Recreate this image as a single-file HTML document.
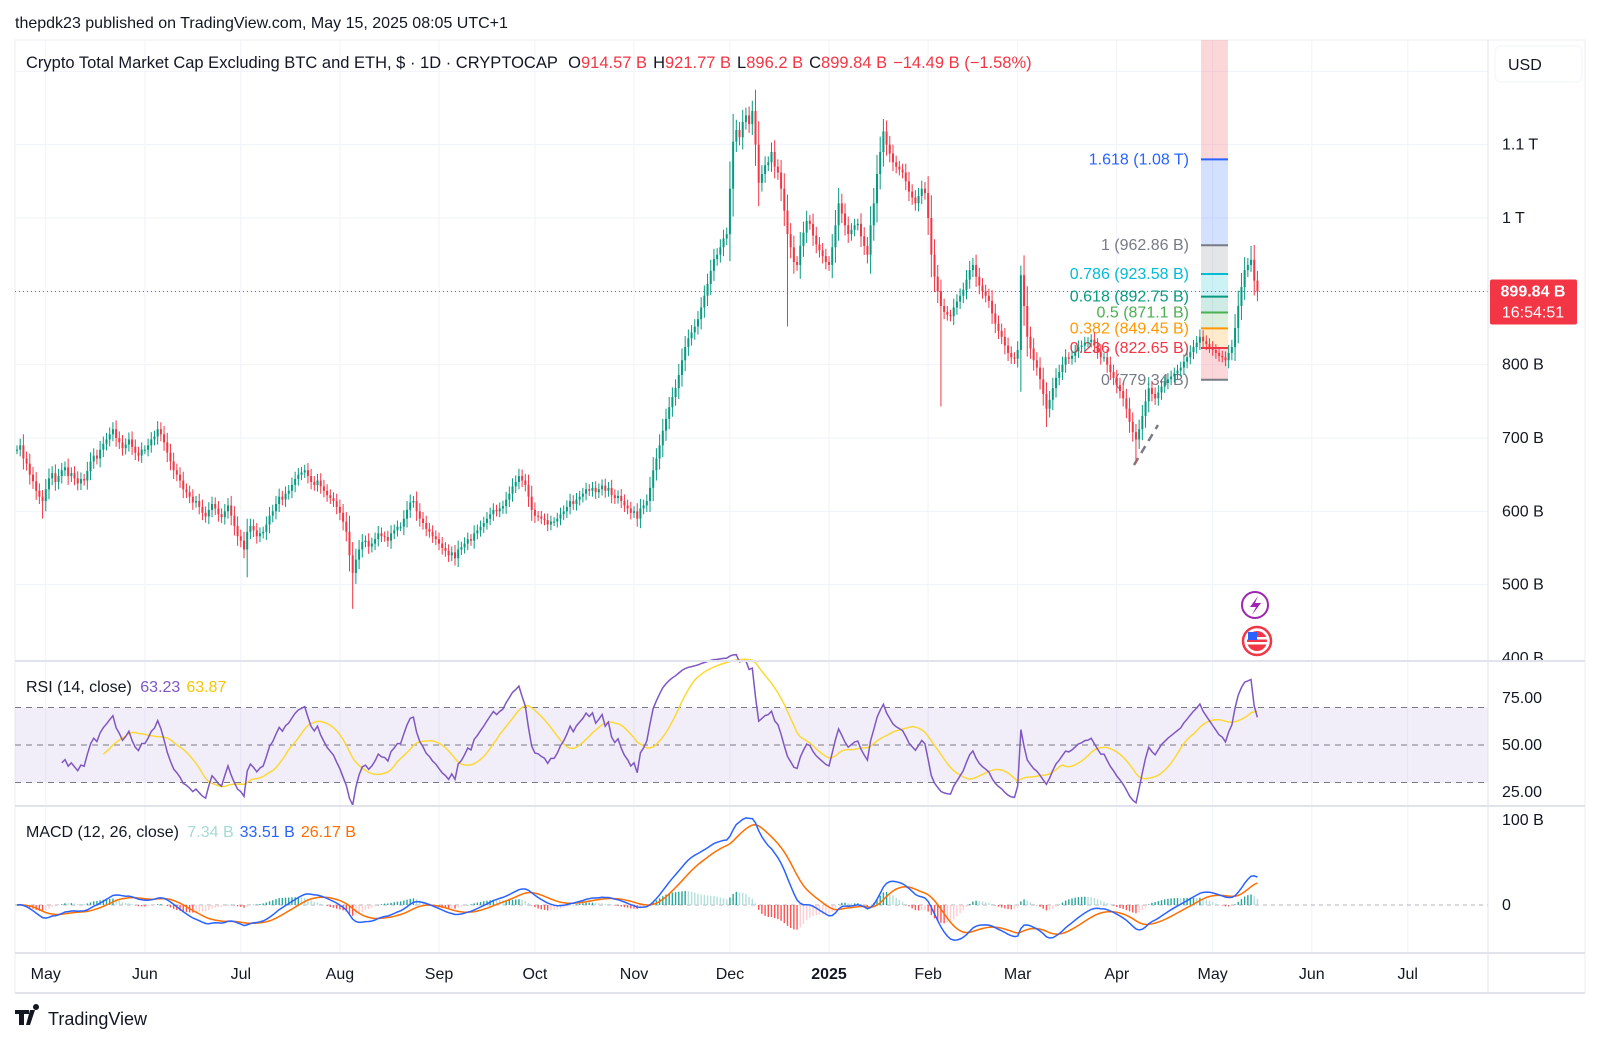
<!DOCTYPE html>
<html><head><meta charset="utf-8">
<style>
html,body{margin:0;padding:0;background:#fff;width:1600px;height:1045px;overflow:hidden;font-family:"Liberation Sans",sans-serif;}
svg{position:absolute;left:0;top:0}
text{font-family:"Liberation Sans",sans-serif}
</style></head>
<body>
<svg id="c" width="1600" height="1045" viewBox="0 0 1600 1045">
  <text x="15" y="28" font-size="16" fill="#131722">thepdk23 published on TradingView.com, May 15, 2025 08:05 UTC+1</text>
  <rect x="15" y="40" width="1570" height="953" fill="none" stroke="#eceef2"/>
  <g id="grid"></g>
  <g id="fib"></g>
  <g id="candles"></g>
  <g id="rsi"></g>
  <g id="macd"></g>
  <g id="axes"></g>
  <text x="26" y="68" font-size="16.5" fill="#131722">Crypto Total Market Cap Excluding BTC and ETH, $ · 1D · CRYPTOCAP <tspan dx="6">O</tspan><tspan fill="#f23645">914.57 B</tspan><tspan dx="6">H</tspan><tspan fill="#f23645">921.77 B</tspan><tspan dx="6">L</tspan><tspan fill="#f23645">896.2 B</tspan><tspan dx="6">C</tspan><tspan fill="#f23645">899.84 B</tspan><tspan dx="6" fill="#f23645">−14.49 B (−1.58%)</tspan></text>
  <text x="26" y="692" font-size="16" fill="#131722">RSI (14, close) <tspan dx="4" fill="#7e57c2">63.23</tspan><tspan dx="6" fill="#f7c600">63.87</tspan></text>
  <text x="26" y="837" font-size="16" fill="#131722">MACD (12, 26, close) <tspan dx="4" fill="#a5dad3">7.34 B</tspan><tspan dx="6" fill="#2962ff">33.51 B</tspan><tspan dx="6" fill="#ff6d00">26.17 B</tspan></text>
  <rect x="1495" y="46" width="87" height="36" rx="6" fill="#fff" stroke="#f0f3fa"/>
  <text x="1508" y="70" font-size="16" fill="#131722">USD</text>
  <g>
    <path d="M15 1010h14v4h-5v11h-5v-11h-4z M30 1010h5l-5 15h-4z M36 1010a3 3 0 1 1 0.01 0z" fill="#131722"/>
    <text x="48" y="1025" font-size="18" fill="#131722">TradingView</text>
  </g>
</svg>
<script>
const closes = [
684,690,672,665,650,641,628,620,614,630,
645,652,640,648,656,660,648,652,645,638,
644,642,655,668,676,672,684,692,698,705,
712,700,694,686,691,698,688,680,676,684,
684,690,698,702,712,705,694,680,668,656,
650,642,630,626,620,612,614,606,598,593,
602,610,604,596,592,600,608,594,580,566,
560,548,572,580,574,566,570,572,582,594,
600,610,620,616,624,628,636,644,650,653,
656,648,640,636,642,634,628,622,618,614,
606,598,586,572,540,516,534,548,558,560,
552,556,562,570,566,565,560,570,574,579,
579,590,602,612,614,600,590,584,576,572,
566,562,556,550,546,540,544,536,548,551,
556,562,560,570,574,579,584,590,596,602,
600,604,607,616,624,634,640,648,642,636,
620,602,594,593,590,588,582,586,586,590,
596,600,606,614,610,616,620,624,630,628,
632,626,630,635,628,632,622,618,621,614,
608,604,598,600,590,604,608,614,632,656,
672,690,710,726,742,756,768,786,806,824,
836,844,852,862,878,894,910,928,944,950,
960,972,978,1040,1104,1120,1110,1131,1140,1128,
1146,1100,1048,1060,1072,1076,1090,1070,1062,1040,
1010,978,960,940,936,962,980,996,992,976,
964,956,948,940,936,960,990,1020,1006,990,
978,984,990,992,975,962,950,990,1020,1060,
1090,1118,1100,1088,1076,1070,1066,1062,1050,1036,
1028,1020,1030,1040,1034,1000,950,920,900,880,
872,868,866,878,886,894,902,916,929,936,
920,908,900,894,887,870,856,846,838,826,
816,810,808,820,922,880,838,822,806,796,
780,760,740,752,768,782,790,800,810,808,
812,818,824,826,830,831,834,826,818,810,
810,800,790,782,772,764,754,740,722,708,
698,712,730,750,768,760,754,762,770,775,
780,784,788,792,796,804,810,817,824,830,
838,832,828,824,820,816,812,810,806,816,
824,850,880,906,929,936,943,914.57,899.84];
const lowIdx = [8,72,105,241,289,322,350];
const lowVals = [590,510,467,852,743,715,665];
const highIdx = [230,271,314,386];
const highVals = [1160,1135,935,962];
const priceTicks = [1100,1000,800,700,600,500,400];
const priceTickLabels = ["1.1 T","1 T","800 B","700 B","600 B","500 B","400 B"];
const monthIdx = [9,40,70,101,132,162,193,223,254,285,313,344,374,405,435];
const monthLabels = ["May","Jun","Jul","Aug","Sep","Oct","Nov","Dec","2025","Feb","Mar","Apr","May","Jun","Jul"];
const fibRatios = ["1.618","1","0.786","0.618","0.5","0.382","0.236","0"];
const fibValues = [1080,962.86,923.58,892.75,871.1,849.45,822.65,779.34];
const fibLabels = ["1.08 T","962.86 B","923.58 B","892.75 B","871.1 B","849.45 B","822.65 B","779.34 B"];
const fibColors = ["#2962ff","#787b86","#00bcd4","#089981","#4caf50","#ff9800","#f23645","#787b86"];
const rsiTicks = [75,50,25];
const macdTicks = [100,0];
const macdTickLabels = ["100 B","0"];
const lastPrice = 899.84;

const NS="http://www.w3.org/2000/svg";
function mk(tag,attrs,parent){const e=document.createElementNS(NS,tag);for(const k in attrs)e.setAttribute(k,attrs[k]);parent.appendChild(e);return e;}
const X=i=>17+i*3.197;
const Y=v=>218+(1000-v)*0.7333;
const RY=r=>745-(r-50)*1.877;
const MY=m=>905-m*0.85;
const PL=15, PR=1488;
const grid=document.getElementById('grid'), axes=document.getElementById('axes');

const gv=[1200,1100,1000,900,800,700,600,500];
gv.forEach(v=>{const l=mk('line',{x1:PL,x2:PR,y1:Y(v),y2:Y(v),stroke:'#f0f3fa'},grid);

});
monthIdx.forEach((m,k)=>{const l=mk('line',{x1:X(m),x2:X(m),y1:40,y2:953,stroke:'#f0f3fa'},grid);


const t=mk('text',{x:X(m),y:979,'font-size':16,fill:'#131722','text-anchor':'middle','font-weight':monthLabels[k]==='2025'?'bold':'normal'},axes);
t.textContent=monthLabels[k];

});
[661,806,953,993].forEach(y=>{const l=mk('line',{x1:PL,x2:1585,y1:y,y2:y,stroke:'#e0e3eb','stroke-width':2},axes);

});
const av=mk('line',{x1:PR,x2:PR,y1:40,y2:993,stroke:'#e0e3eb'},axes);


const defs=mk('defs',{},document.getElementById('c'));
const cp=mk('clipPath',{id:'mainclip'},defs);mk('rect',{x:0,y:40,width:1600,height:620},cp);
priceTicks.forEach((v,k)=>{const t=mk('text',{x:1502,y:Y(v)+5,'font-size':16,fill:'#131722'},axes);
t.textContent=priceTickLabels[k];


if(v===400)t.setAttribute('clip-path','url(#mainclip)');});

const fib=document.getElementById('fib');
const fx1=1201,fx2=1228;
const fillCols=['rgba(242,54,69,0.2)','rgba(41,98,255,0.2)','rgba(120,123,134,0.2)','rgba(0,188,212,0.2)','rgba(8,153,129,0.2)','rgba(76,175,80,0.2)','rgba(255,152,0,0.2)','rgba(242,54,69,0.2)'];
let prevY=40;
fibValues.forEach((v,k)=>{const r=mk('rect',{x:fx1,y:prevY,width:fx2-fx1,height:Y(v)-prevY,fill:fillCols[k]},fib);


prevY=Y(v);});
fibValues.forEach((v,k)=>{const l=mk('line',{x1:fx1,x2:fx2,y1:Y(v),y2:Y(v),stroke:fibColors[k],'stroke-width':2},fib);


const t=mk('text',{x:1189,y:Y(v)+5,'font-size':16,fill:fibColors[k],'text-anchor':'end'},fib);
t.textContent=fibRatios[k]+' ('+fibLabels[k]+')';

});
const tl=mk('line',{x1:1134,y1:465,x2:1158,y2:425,stroke:'#787b86','stroke-width':2.5,'stroke-dasharray':'8 6'},fib);



const cg=document.getElementById('candles');
closes.forEach((c,i)=>{const o=i?closes[i-1]:c;const up=c>=o;const col=up?'#089981':'#f23645';
let hi=Math.max(o,c)+Math.abs(c-o)*0.5+6, lo=Math.min(o,c)-Math.abs(c-o)*0.5-6;
const li=lowIdx.indexOf(i); if(li>=0)lo=lowVals[li];
const hj=highIdx.indexOf(i); if(hj>=0)hi=highVals[hj];
const w=mk('line',{x1:X(i),x2:X(i),y1:Y(hi),y2:Y(lo),stroke:col,'stroke-width':1},cg);


const b=mk('rect',{x:X(i)-1,y:Math.min(Y(o),Y(c)),width:2,height:Math.max(1,Math.abs(Y(o)-Y(c))),fill:col},cg);

});
const pl=mk('line',{x1:PL,x2:PR,y1:Y(lastPrice),y2:Y(lastPrice),stroke:'#f23645','stroke-dasharray':'1 3'},cg);


const pb=mk('rect',{x:1490,y:Y(lastPrice)-12,width:87,height:45,rx:2,fill:'#f23645'},axes);


const pt=mk('text',{x:1533,y:Y(lastPrice)+5,'font-size':16,fill:'#fff','text-anchor':'middle','font-weight':'bold'},axes);
pt.textContent=lastPrice.toFixed(2)+' B';


const pt2=mk('text',{x:1533,y:Y(lastPrice)+26,'font-size':16,fill:'#fff','text-anchor':'middle'},axes);
pt2.textContent='16:54:51';


const ic1=mk('circle',{cx:1255,cy:605,r:13,fill:'#fff',stroke:'#9c27b0','stroke-width':2},cg);


mk('path',{d:'M1258 596 L1250 607 L1256 607 L1252 615 L1261 603 L1255 603 Z',fill:'#9c27b0'},cg);
const ic2=mk('circle',{cx:1257,cy:641,r:14,fill:'#fff',stroke:'#f23645','stroke-width':2.5},cg);


mk('circle',{cx:1257,cy:641,r:10,fill:'#f23645'},cg);
mk('rect',{x:1247,y:637,width:20,height:2.5,fill:'#fff'},cg);
mk('rect',{x:1247,y:642,width:20,height:2.5,fill:'#fff'},cg);
mk('rect',{x:1248,y:632,width:9,height:8,fill:'#2962ff'},cg);

const rg=document.getElementById('rsi');
const band=mk('rect',{x:PL,y:RY(70),width:PR-PL,height:RY(30)-RY(70),fill:'rgba(126,87,194,0.1)'},rg);


[70,50,30].forEach(v=>{const l=mk('line',{x1:PL,x2:PR,y1:RY(v),y2:RY(v),stroke:'#787b86','stroke-dasharray':'6 5'},rg);

});
rsiTicks.forEach(v=>{const t=mk('text',{x:1502,y:RY(v)+5,'font-size':16,fill:'#131722'},axes);
t.textContent=v.toFixed(2);

});
const rsi=[];let ag=0,al=0;
for(let i=1;i<closes.length;i++){const d=closes[i]-closes[i-1];const g=Math.max(d,0),l=Math.max(-d,0);
if(i<=14){ag+=g/14;al+=l/14;if(i===14)rsi[i]=100-100/(1+ag/(al||1e-9));}
else{ag=(ag*13+g)/14;al=(al*13+l)/14;rsi[i]=100-100/(1+ag/(al||1e-9));}}
const rma=[];for(let i=27;i<closes.length;i++){let s=0;for(let j=i-13;j<=i;j++)s+=rsi[j];rma[i]=s/14;}
let rp='',mp='';
for(let i=0;i<closes.length;i++){if(rsi[i]!==undefined)rp+=(rp?'L':'M')+X(i).toFixed(1)+' '+RY(rsi[i]).toFixed(1);
if(rma[i]!==undefined)mp+=(mp?'L':'M')+X(i).toFixed(1)+' '+RY(rma[i]).toFixed(1);}
const rma_=mk('path',{d:mp,fill:'none',stroke:'#fdd835','stroke-width':1.5},rg);


const rl=mk('path',{d:rp,fill:'none',stroke:'#7e57c2','stroke-width':1.5},rg);



const mg=document.getElementById('macd');
const ema=(arr,n)=>{const k=2/(n+1);const out=[];arr.forEach((v,i)=>{out[i]=i?v*k+out[i-1]*(1-k):v;});return out;};
const e12=ema(closes,12),e26=ema(closes,26);
const macd=closes.map((c,i)=>e12[i]-e26[i]);
const sig=ema(macd,9);
const zl=mk('line',{x1:PL,x2:PR,y1:MY(0),y2:MY(0),stroke:'#b2b5be','stroke-dasharray':'4 4'},mg);


macdTicks.forEach((v,k)=>{const t=mk('text',{x:1502,y:MY(v)+5,'font-size':16,fill:'#131722'},axes);
t.textContent=macdTickLabels[k];

});
let prevH=0;
macd.forEach((m,i)=>{const h=m-sig[i];const col=h>=0?(h>=prevH?'#26a69a':'#b2dfdb'):(h<prevH?'#ff5252':'#ffcdd2');prevH=h;
const b=mk('rect',{x:X(i)-0.7,y:Math.min(MY(0),MY(h)),width:1.4,height:Math.max(0.5,Math.abs(MY(h)-MY(0))),fill:col},mg);

});
let p1='',p2='';
macd.forEach((m,i)=>{p1+=(i?'L':'M')+X(i).toFixed(1)+' '+MY(m).toFixed(1);p2+=(i?'L':'M')+X(i).toFixed(1)+' '+MY(sig[i]).toFixed(1);});
const sl=mk('path',{d:p2,fill:'none',stroke:'#ff6d00','stroke-width':1.5},mg);


const ml=mk('path',{d:p1,fill:'none',stroke:'#2962ff','stroke-width':1.5},mg);


</script>
</body></html>
